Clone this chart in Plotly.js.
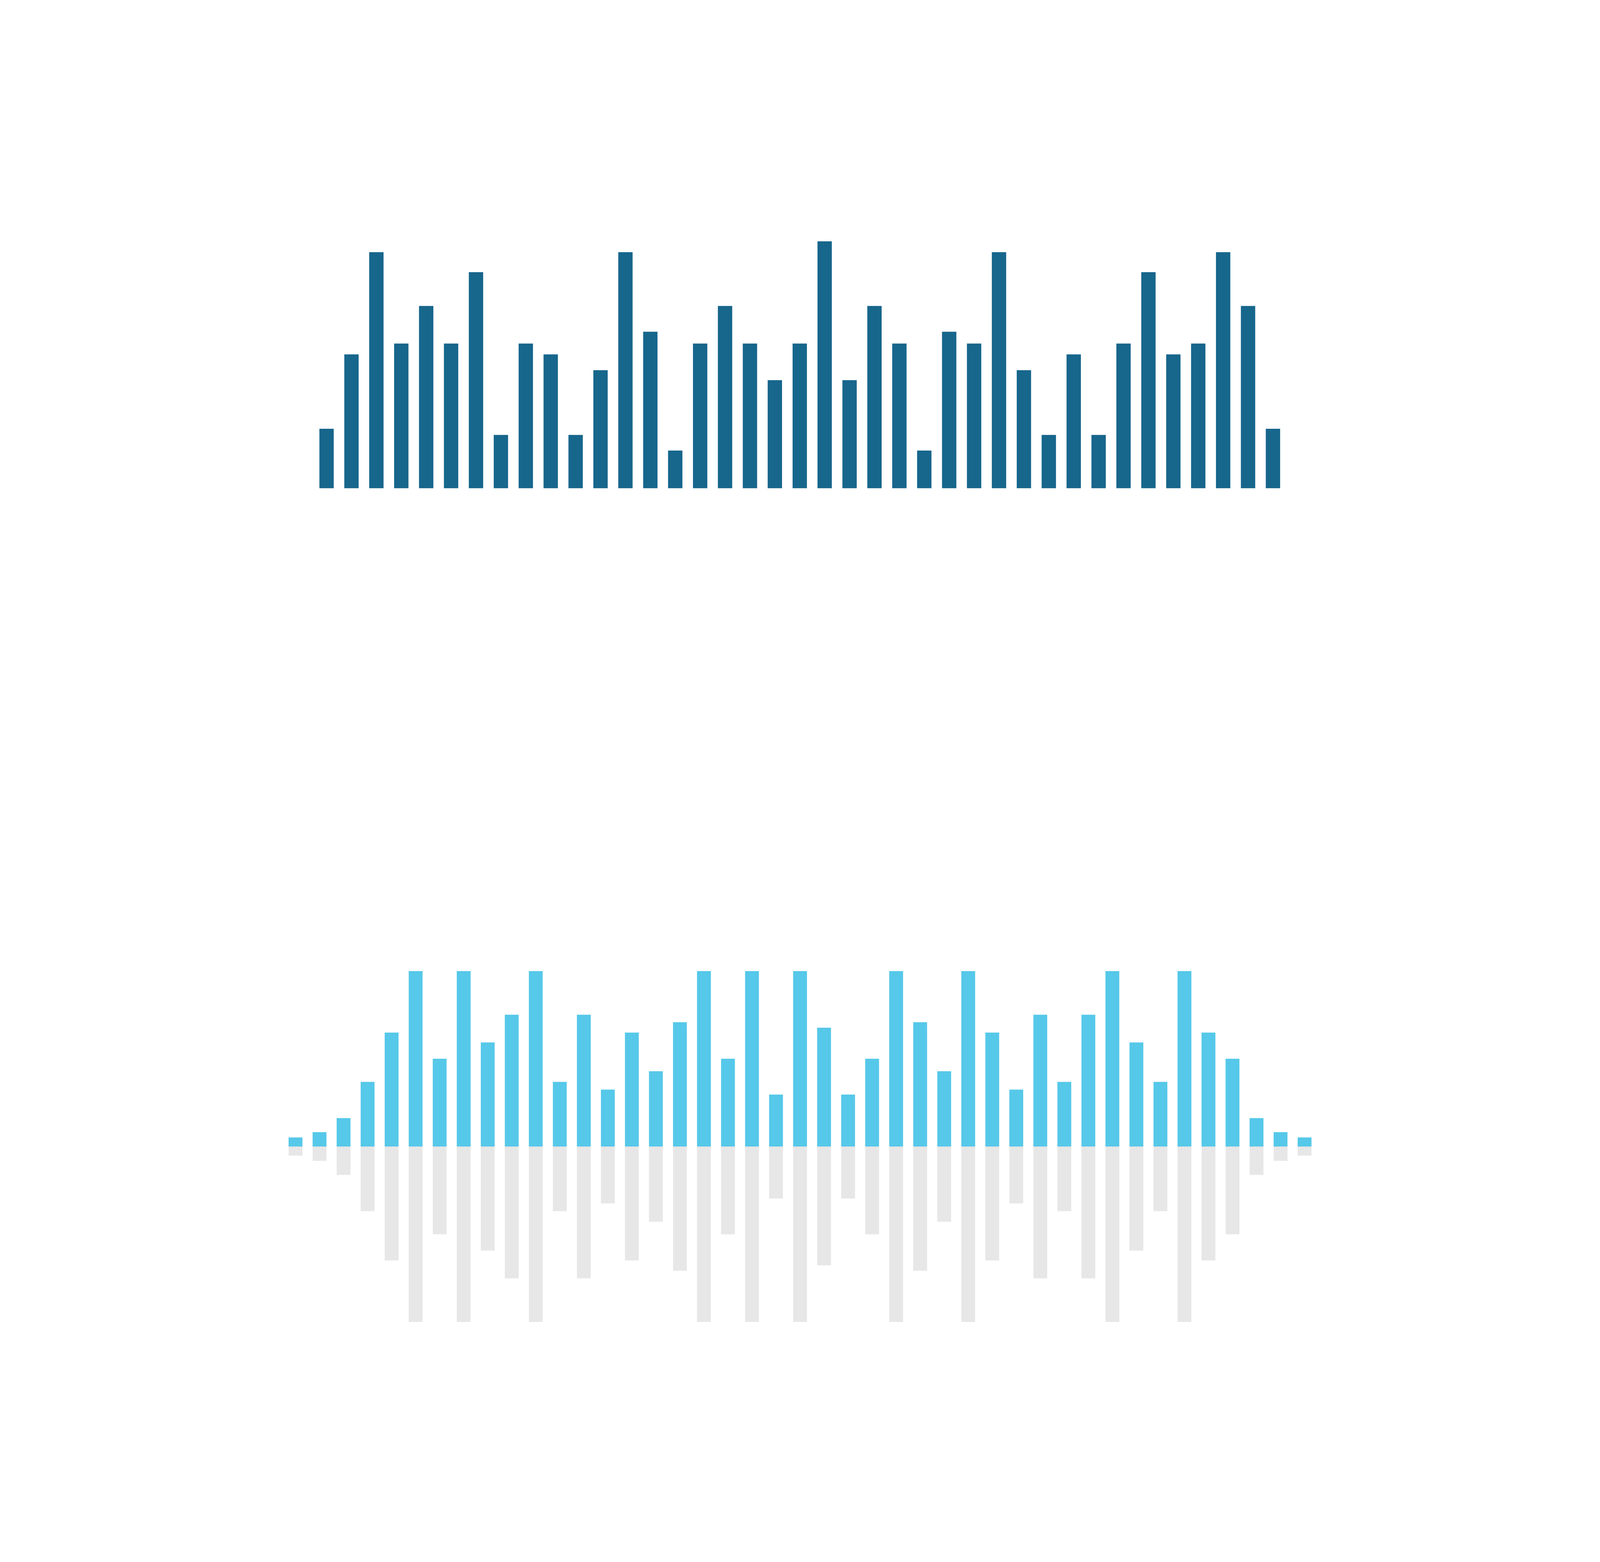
<!DOCTYPE html>
<html>
<head>
<meta charset="utf-8">
<script src="https://cdn.plot.ly/plotly-3.0.1.min.js"></script>
<style>html,body{margin:0;padding:0;background:#fff;overflow:hidden;}#chart{width:100vw;height:100vh;}</style>
</head>
<body>
<div id="chart"></div>
<script>
// Top waveform (dark blue) — 39 bars
const topCategories = Array.from({length: 39}, (_, i) => 'T' + (i + 1));
const topValues = [24.1, 54.2, 95.6, 58.6, 73.8, 58.6, 87.5, 21.6, 58.6, 54.2, 21.6, 47.8, 95.6,
                   63.4, 15.3, 58.6, 73.8, 58.6, 43.8, 58.6, 100, 43.8, 73.8, 58.6, 15.3, 63.4,
                   58.6, 95.6, 47.8, 21.6, 54.2, 21.6, 58.6, 87.5, 54.2, 58.6, 95.6, 73.8, 24.1];

// Bottom waveform (light blue with grey reflection) — 43 bars
const bottomCategories = Array.from({length: 43}, (_, i) => 'B' + (i + 1));
const bottomValues = [5.2, 8.2, 16.2, 36.8, 64.9, 100, 50, 100, 59.3, 75.1, 100, 36.8, 75.1,
                      32.4, 64.9, 42.9, 70.8, 100, 50, 100, 29.6, 100, 67.7, 29.6, 50, 100,
                      70.8, 42.9, 100, 64.9, 32.4, 75.1, 36.8, 75.1, 100, 59.3, 36.8, 100,
                      64.9, 50, 16.2, 8.2, 5.2];
const reflectionValues = bottomValues.map(v => -v);

const traces = [
  {type: 'bar', x: topCategories, y: topValues, xaxis: 'x', yaxis: 'y',
   marker: {color: '#17668C', line: {width: 0}}, hoverinfo: 'none', showlegend: false},
  {type: 'bar', x: bottomCategories, y: bottomValues, xaxis: 'x2', yaxis: 'y2',
   marker: {color: '#56C8E9', line: {width: 0}}, hoverinfo: 'none', showlegend: false},
  {type: 'bar', x: bottomCategories, y: reflectionValues, xaxis: 'x2', yaxis: 'y2',
   marker: {color: '#E7E7E7', line: {width: 0}}, hoverinfo: 'none', showlegend: false}
];

const hidden = {showgrid: false, zeroline: false, showticklabels: false, ticks: '', showline: false, fixedrange: true};

const W = Math.min(window.innerWidth || 5000, 5000);
const H = Math.min(window.innerHeight || 4000, 4000);

const layout = {
  width: W, height: H,
  margin: {l: 0, r: 0, t: 0, b: 0, pad: 0},
  paper_bgcolor: '#ffffff', plot_bgcolor: 'rgba(0,0,0,0)',
  barmode: 'relative', bargap: 0.424,
  showlegend: false,
  xaxis: Object.assign({}, hidden, {type: 'category', domain: [0.19632, 0.80338], range: [-0.5, 38.5], anchor: 'y'}),
  yaxis: Object.assign({}, hidden, {domain: [0.68738, 0.84553], range: [0, 100], anchor: 'x'}),
  xaxis2: Object.assign({}, hidden, {type: 'category', domain: [0.17719, 0.82287], range: [-0.5, 42.5], anchor: 'y2'}),
  yaxis2: Object.assign({}, hidden, {domain: [0.153625, 0.378375], range: [-100, 100], anchor: 'x2'})
};

Plotly.newPlot('chart', traces, layout, {staticPlot: true, displayModeBar: false});
</script>
</body>
</html>
